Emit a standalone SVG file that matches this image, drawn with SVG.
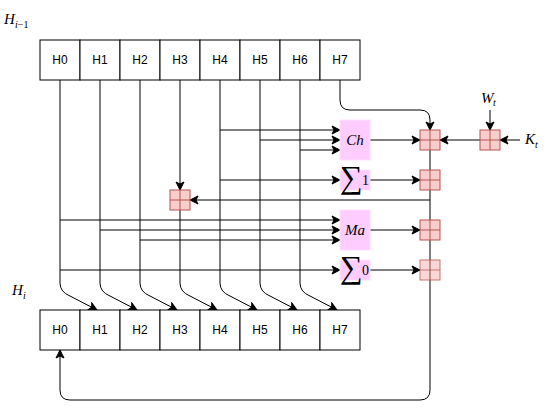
<svg xmlns="http://www.w3.org/2000/svg" width="551" height="409" viewBox="0 0 551 409">
<style>
.box{fill:#fff;stroke:#000;stroke-width:1}
.lbl{font-family:"Liberation Sans",Arial,sans-serif;font-size:12px;fill:#000;text-anchor:middle}
.math{font-family:"Liberation Serif","Times New Roman",serif;font-style:italic;fill:#000}
.num{font-family:"Liberation Serif","Times New Roman",serif;fill:#000}
.fn{fill:#ffccff;stroke:#ffdfff;stroke-width:1}
.add rect{fill:#f8cecc;stroke:#b85450;stroke-width:1}
.add path{fill:none;stroke:#b85450;stroke-width:1}
.c{fill:none;stroke:#000;stroke-width:1}
.a{marker-end:url(#arr)}
</style>
<defs>
<marker id="arr" markerUnits="userSpaceOnUse" markerWidth="10" markerHeight="10" viewBox="0 0 10 10" refX="9" refY="5" orient="auto">
<path d="M1,1 L9,5 L1,9 L3,5 z" fill="#000" stroke="#000" stroke-width="1"/>
</marker>
</defs>
<rect width="551" height="409" fill="#fff"/>

<g id="labels">
<text class="math" x="4" y="24" font-size="15">H</text><text class="math" x="15" y="28" font-size="10">i<tspan font-style="normal">−1</tspan></text>
<text class="math" x="12" y="295" font-size="15">H</text><text class="math" x="23" y="299" font-size="10">i</text>
<text class="math" x="481" y="103" font-size="15">W</text><text class="math" x="493" y="106" font-size="10">t</text>
<text class="math" x="525" y="144" font-size="15">K</text><text class="math" x="535" y="148" font-size="10">t</text>
</g>

<g id="connectors">
<path class="c a" d="M60 80 V283 Q60 292 70 296 L97 310"/>
<path class="c a" d="M100 80 V283 Q100 292 110 296 L137 310"/>
<path class="c a" d="M140 80 V283 Q140 292 150 296 L177 310"/>
<path class="c a" d="M180 80 V190"/>
<path class="c a" d="M180 210 V283 Q180 292 190 296 L217 310"/>
<path class="c a" d="M220 80 V283 Q220 292 230 296 L257 310"/>
<path class="c a" d="M260 80 V283 Q260 292 270 296 L297 310"/>
<path class="c a" d="M300 80 V283 Q300 292 310 296 L337 310"/>
<path class="c a" d="M340 80 V100 Q340 110 350 110 H420 Q430 110 430 120 V130"/>
<path class="c a" d="M220 130 H340"/>
<path class="c a" d="M260 140 H340"/>
<path class="c a" d="M300 150 H340"/>
<path class="c a" d="M370 140 H420"/>
<path class="c a" d="M220 180 H340"/>
<path class="c a" d="M370 180 H420"/>
<path class="c a" d="M430 200 H190"/>
<path class="c a" d="M60 220 H340"/>
<path class="c a" d="M100 230 H340"/>
<path class="c a" d="M140 240 H340"/>
<path class="c a" d="M370 230 H420"/>
<path class="c a" d="M60 270 H340"/>
<path class="c a" d="M370 270 H420"/>
<path class="c a" d="M490 110 V130"/>
<path class="c a" d="M520 140 H500"/>
<path class="c a" d="M480 140 H440"/>
<path class="c a" d="M430 150 V390 Q430 400 420 400 H70 Q60 400 60 390 V350"/>
</g>

<g id="prev">
<g id="p0"><rect class="box" x="40" y="40" width="40" height="40"/><text class="lbl" x="60" y="64">H0</text></g>
<g id="p1"><rect class="box" x="80" y="40" width="40" height="40"/><text class="lbl" x="100" y="64">H1</text></g>
<g id="p2"><rect class="box" x="120" y="40" width="40" height="40"/><text class="lbl" x="140" y="64">H2</text></g>
<g id="p3"><rect class="box" x="160" y="40" width="40" height="40"/><text class="lbl" x="180" y="64">H3</text></g>
<g id="p4"><rect class="box" x="200" y="40" width="40" height="40"/><text class="lbl" x="220" y="64">H4</text></g>
<g id="p5"><rect class="box" x="240" y="40" width="40" height="40"/><text class="lbl" x="260" y="64">H5</text></g>
<g id="p6"><rect class="box" x="280" y="40" width="40" height="40"/><text class="lbl" x="300" y="64">H6</text></g>
<g id="p7"><rect class="box" x="320" y="40" width="40" height="40"/><text class="lbl" x="340" y="64">H7</text></g>
</g>

<g id="next">
<g id="n0"><rect class="box" x="40" y="310" width="40" height="40"/><text class="lbl" x="60" y="334">H0</text></g>
<g id="n1"><rect class="box" x="80" y="310" width="40" height="40"/><text class="lbl" x="100" y="334">H1</text></g>
<g id="n2"><rect class="box" x="120" y="310" width="40" height="40"/><text class="lbl" x="140" y="334">H2</text></g>
<g id="n3"><rect class="box" x="160" y="310" width="40" height="40"/><text class="lbl" x="180" y="334">H3</text></g>
<g id="n4"><rect class="box" x="200" y="310" width="40" height="40"/><text class="lbl" x="220" y="334">H4</text></g>
<g id="n5"><rect class="box" x="240" y="310" width="40" height="40"/><text class="lbl" x="260" y="334">H5</text></g>
<g id="n6"><rect class="box" x="280" y="310" width="40" height="40"/><text class="lbl" x="300" y="334">H6</text></g>
<g id="n7"><rect class="box" x="320" y="310" width="40" height="40"/><text class="lbl" x="340" y="334">H7</text></g>
</g>

<g id="ch"><rect class="fn" x="340" y="120" width="30" height="40"/><text class="math" x="355" y="145" font-size="15" text-anchor="middle">Ch</text></g>
<g id="sigma1"><rect class="fn" x="340" y="170" width="30" height="20"/><text class="num" x="340" y="188" font-size="32">∑</text><text class="num" x="362" y="185" font-size="14">1</text></g>
<g id="ma"><rect class="fn" x="340" y="210" width="30" height="40"/><text class="math" x="355" y="235" font-size="15" text-anchor="middle">Ma</text></g>
<g id="sigma0"><rect class="fn" x="340" y="260" width="30" height="20"/><text class="num" x="340" y="278" font-size="32">∑</text><text class="num" x="362" y="275" font-size="14">0</text></g>

<g id="add1" class="add"><rect x="420" y="130" width="20" height="20"/><path d="M430 130 V150 M420 140 H440"/></g>
<g id="addW" class="add"><rect x="480" y="130" width="20" height="20"/><path d="M490 130 V150 M480 140 H500"/></g>
<g id="add2" class="add"><rect x="420" y="170" width="20" height="20"/><path d="M430 170 V190 M420 180 H440"/></g>
<g id="add3" class="add"><rect x="170" y="190" width="20" height="20"/><path d="M180 190 V210 M170 200 H190"/></g>
<g id="add4" class="add"><rect x="420" y="220" width="20" height="20"/><path d="M430 220 V240 M420 230 H440"/></g>
<g id="add5" class="add" opacity="0.8"><rect x="420" y="260" width="20" height="20"/><path d="M430 260 V280 M420 270 H440"/></g>
</svg>
